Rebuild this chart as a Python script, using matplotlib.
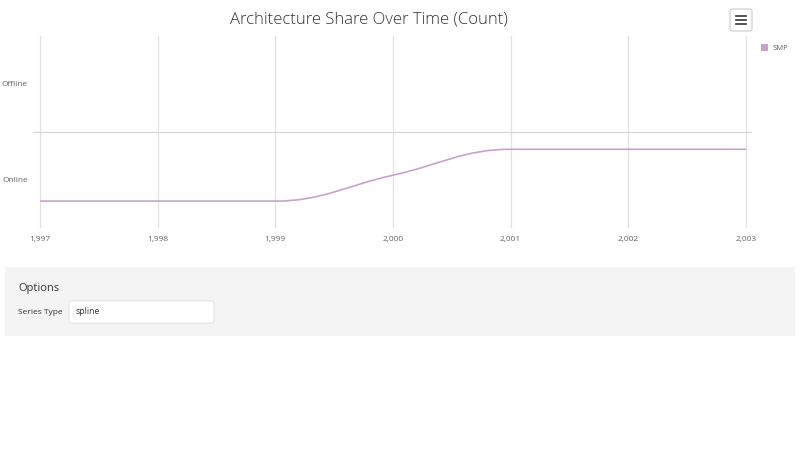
import numpy as np
import matplotlib.pyplot as plt
from matplotlib.path import Path
from matplotlib.patches import PathPatch, FancyBboxPatch, Rectangle

# data
years = [1997, 1998, 1999, 2000, 2001, 2002, 2003]
smp = [-0.22, -0.22, -0.22, 0.05, 0.32, 0.32, 0.32]
y_categories = ["Online", "Offline"]
x_labels = ["1,997", "1,998", "1,999", "2,000", "2,001", "2,002", "2,003"]

line_color = "#c8a2cc"
grid_color = "#e2e2e2"
text_color = "#666666"

plt.rcParams['font.family'] = ['Open Sans', 'DejaVu Sans']

fig = plt.figure(figsize=(8, 4.5), dpi=100)
W, H = 800, 450


def fx(px):
    return px / W


def fy(py):
    return 1 - py / H


ax = fig.add_axes([fx(33), fy(228), fx(752 - 33), fy(36) - fy(228)])
ax.set_xlim(1997 - 7 / 117.67, 2003 + 6 / 117.67)
ax.set_ylim(-0.5, 1.5)

for s in ax.spines.values():
    s.set_visible(False)

ax.set_xticks(years)
ax.set_xticklabels(x_labels, fontsize=6, color=text_color)
ax.set_yticks([0, 1])
ax.set_yticklabels(y_categories, fontsize=6, color=text_color)
ax.tick_params(length=0)
ax.tick_params(axis='x', pad=6)
ax.tick_params(axis='y', pad=3.6)

for yr in years:
    ax.axvline(yr, color=grid_color, lw=0.9, zorder=0)
ax.axhline(0.5, color="#d8d8d8", lw=0.9, zorder=0)


# highcharts style spline: cubic bezier through the points
def spline_path(xs, ys, smoothing=1.5):
    n = len(xs)
    denom = smoothing + 1
    conts = []
    for i in range(n):
        if i == 0 or i == n - 1:
            conts.append(((xs[i], ys[i]), (xs[i], ys[i])))
            continue
        x, y = xs[i], ys[i]
        lx = (smoothing * x + xs[i - 1]) / denom
        ly = (smoothing * y + ys[i - 1]) / denom
        rx = (smoothing * x + xs[i + 1]) / denom
        ry = (smoothing * y + ys[i + 1]) / denom
        if rx != lx:
            corr = (ry - ly) * (rx - x) / (rx - lx) + y - ry
            ly += corr
            ry += corr
        # keep the curve from overshooting its points
        last = ys[i - 1]
        if ly > last and ly > y:
            ly = max(last, y)
            ry = 2 * y - ly
        elif ly < last and ly < y:
            ly = min(last, y)
            ry = 2 * y - ly
        nxt = ys[i + 1]
        if ry > nxt and ry > y:
            ry = max(nxt, y)
            ly = 2 * y - ry
        elif ry < nxt and ry < y:
            ry = min(nxt, y)
            ly = 2 * y - ry
        conts.append(((lx, ly), (rx, ry)))
    verts = [(xs[0], ys[0])]
    codes = [Path.MOVETO]
    for i in range(1, n):
        verts += [conts[i - 1][1], conts[i][0], (xs[i], ys[i])]
        codes += [Path.CURVE4] * 3
    return Path(verts, codes)


ax.add_patch(PathPatch(spline_path(years, smp), fill=False,
                       edgecolor=line_color, lw=1.2, zorder=3))

# title
fig.text(fx(369), fy(19), "Architecture Share Over Time (Count)",
         ha='center', va='center', fontsize=12, color="#333333",
         fontweight='light')

# menu button
fig.patches.append(FancyBboxPatch((fx(730), fy(31)), fx(22), fy(9) - fy(31),
                                  boxstyle="round,pad=0,rounding_size=0.004",
                                  transform=fig.transFigure, facecolor='white',
                                  edgecolor='#cccccc', lw=0.8))
for py in [16, 20, 24]:
    fig.add_artist(plt.Line2D([fx(736), fx(746)], [fy(py), fy(py)],
                              transform=fig.transFigure, color='#333333', lw=1.2))

# legend
fig.patches.append(Rectangle((fx(761), fy(51)), fx(7), fy(44) - fy(51),
                             transform=fig.transFigure, facecolor=line_color,
                             edgecolor='none'))
fig.text(fx(773), fy(48), "SMP", fontsize=5.5, color=text_color, va='center')

# options panel
fig.patches.append(Rectangle((fx(5), fy(336)), fx(790), fy(267) - fy(336),
                             transform=fig.transFigure, facecolor='#f4f4f4',
                             edgecolor='none'))
fig.text(fx(18), fy(288), "Options", fontsize=8, color="#333333", va='center')
fig.text(fx(18), fy(312), "Series Type", fontsize=6, color="#333333", va='center')
fig.patches.append(FancyBboxPatch((fx(69), fy(323)), fx(145), fy(301) - fy(323),
                                  boxstyle="round,pad=0,rounding_size=0.003",
                                  transform=fig.transFigure, facecolor='white',
                                  edgecolor='#e4e4e4', lw=0.8))
fig.text(fx(76), fy(312), "spline", fontsize=6.2, color="#333333", va='center')

fig.savefig("out.png", dpi=100, facecolor='white')
